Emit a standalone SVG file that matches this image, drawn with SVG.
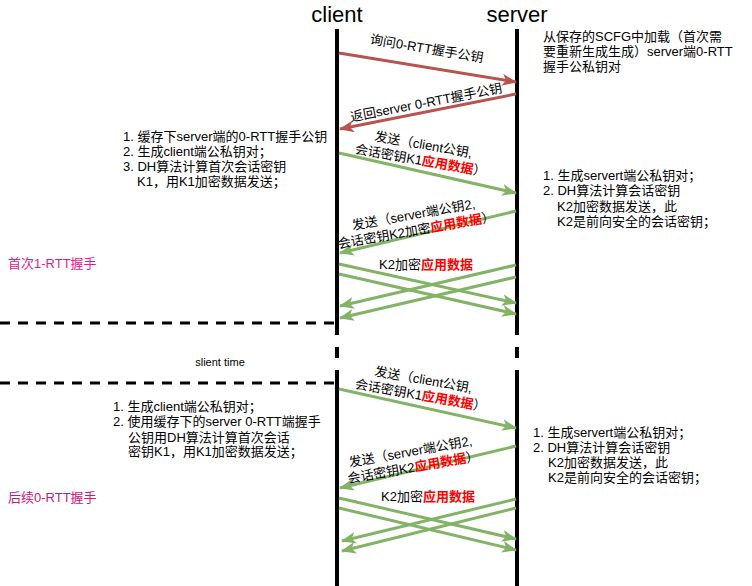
<svg xmlns="http://www.w3.org/2000/svg" width="752" height="586" viewBox="0 0 752 586">
<style>
text{font-family:"Liberation Sans","Noto Sans CJK SC",sans-serif;font-size:13px;fill:#000}
.hdr{font-size:22px}
.red{fill:#ff0000;font-weight:bold}
.life{stroke:#000;stroke-width:4;fill:none}
.sep{stroke:#000;stroke-width:3;stroke-dasharray:10 8;fill:none}
.r{stroke:#b85450;stroke-width:3;fill:none;marker-end:url(#mr)}
.g{stroke:#82b366;stroke-width:3;fill:none;marker-end:url(#mg)}
.lbl{text-anchor:middle}
</style>
<defs>
<marker id="mr" markerUnits="userSpaceOnUse" markerWidth="16" markerHeight="12" refX="14" refY="6" orient="auto"><path d="M0,0 L15,6 L0,12 L4,6 Z" fill="#b85450"/></marker>
<marker id="mg" markerUnits="userSpaceOnUse" markerWidth="16" markerHeight="12" refX="14" refY="6" orient="auto"><path d="M0,0 L15,6 L0,12 L4,6 Z" fill="#82b366"/></marker>
</defs>
<rect width="752" height="586" fill="#fff"/>

<g id="client">
<text class="hdr" x="337" y="22" text-anchor="middle">client</text>
<path class="life" d="M337,29 V335 M337,347 V358 M337,370 V586"/>
</g>
<g id="server">
<text class="hdr" x="517" y="22" text-anchor="middle">server</text>
<path class="life" d="M517,29 V335 M517,347 V358 M517,370 V586"/>
</g>

<g id="separators">
<path class="sep" d="M0,323 H337"/>
<path class="sep" d="M0,383 H337"/>
</g>

<g id="phase1-label"><text x="8" y="268" fill="#e6198a" style="fill:#e6198a">首次1-RTT握手</text></g>
<g id="phase2-label"><text x="8" y="502" style="fill:#c4177a">后续0-RTT握手</text></g>
<g id="silent"><text x="220" y="366" text-anchor="middle" style="font-size:11px">slient time</text></g>

<g id="note-client-1">
<text x="123" y="141">1. 缓存下server端的0-RTT握手公钥</text>
<text x="123" y="156">2. 生成client端公私钥对；</text>
<text x="123" y="171">3. DH算法计算首次会话密钥</text>
<text x="137" y="186">K1，用K1加密数据发送；</text>
</g>
<g id="note-server-0">
<text x="543" y="41">从保存的SCFG中加载（首次需</text>
<text x="543" y="56">要重新生成生成）server端0-RTT</text>
<text x="543" y="71">握手公私钥对</text>
</g>
<g id="note-server-1">
<text x="543" y="179.5">1. 生成servert端公私钥对；</text>
<text x="543" y="195">2. DH算法计算会话密钥</text>
<text x="557" y="210.5">K2加密数据发送，此</text>
<text x="557" y="226">K2是前向安全的会话密钥；</text>
</g>
<g id="note-client-2">
<text x="113" y="410.5">1. 生成client端公私钥对；</text>
<text x="113" y="426">2. 使用缓存下的server 0-RTT端握手</text>
<text x="128" y="441.5">公钥用DH算法计算首次会话</text>
<text x="128" y="456">密钥K1，用K1加密数据发送；</text>
</g>
<g id="note-server-2">
<text x="533" y="436.5">1. 生成servert端公私钥对；</text>
<text x="533" y="451.5">2. DH算法计算会话密钥</text>
<text x="548" y="466.5">K2加密数据发送，此</text>
<text x="548" y="481.5">K2是前向安全的会话密钥；</text>
</g>

<g id="connectors">
<line class="r" x1="339" y1="53" x2="516" y2="82"/>
<line class="r" x1="516" y1="94" x2="340" y2="129"/>
<line class="g" x1="339" y1="153" x2="516" y2="193"/>
<line class="g" x1="516" y1="211" x2="340" y2="253"/>
<line class="g" x1="339" y1="264" x2="516" y2="303"/>
<line class="g" x1="339" y1="274" x2="516" y2="314"/>
<line class="g" x1="516" y1="265" x2="340" y2="306"/>
<line class="g" x1="516" y1="277" x2="340" y2="318"/>
<line class="g" x1="339" y1="389" x2="516" y2="428"/>
<line class="g" x1="516" y1="446" x2="340" y2="488"/>
<line class="g" x1="339" y1="498" x2="516" y2="539"/>
<line class="g" x1="339" y1="508" x2="516" y2="550"/>
<line class="g" x1="516" y1="499" x2="342" y2="541"/>
<line class="g" x1="516" y1="508" x2="342" y2="551"/>
</g>

<g id="connector-labels">
<text class="lbl" transform="translate(426,53) rotate(9.5)">询问0-RTT握手公钥</text>
<text class="lbl" transform="translate(427,107) rotate(-11)">返回server 0-RTT握手公钥</text>
<text class="lbl" transform="translate(422,153) rotate(10)"><tspan x="0" y="-4">发送（client公钥,</tspan><tspan x="0" y="12">会话密钥K1<tspan class="red">应用数据</tspan>）</tspan></text>
<text class="lbl" transform="translate(415,223) rotate(-10)"><tspan x="0" y="-4">发送（server端公钥2,</tspan><tspan x="0" y="12">会话密钥K2加密<tspan class="red">应用数据</tspan>）</tspan></text>
<text class="lbl" x="426" y="268.5">K2加密<tspan class="red">应用数据</tspan></text>
<text class="lbl" transform="translate(422,388) rotate(10)"><tspan x="0" y="-4">发送（client公钥,</tspan><tspan x="0" y="12">会话密钥K1<tspan class="red">应用数据</tspan>）</tspan></text>
<text class="lbl" transform="translate(412,460) rotate(-10)"><tspan x="0" y="-4">发送（server端公钥2,</tspan><tspan x="0" y="12">会话密钥K2<tspan class="red">应用数据</tspan>）</tspan></text>
<text class="lbl" x="428" y="501">K2加密<tspan class="red">应用数据</tspan></text>
</g>
</svg>
